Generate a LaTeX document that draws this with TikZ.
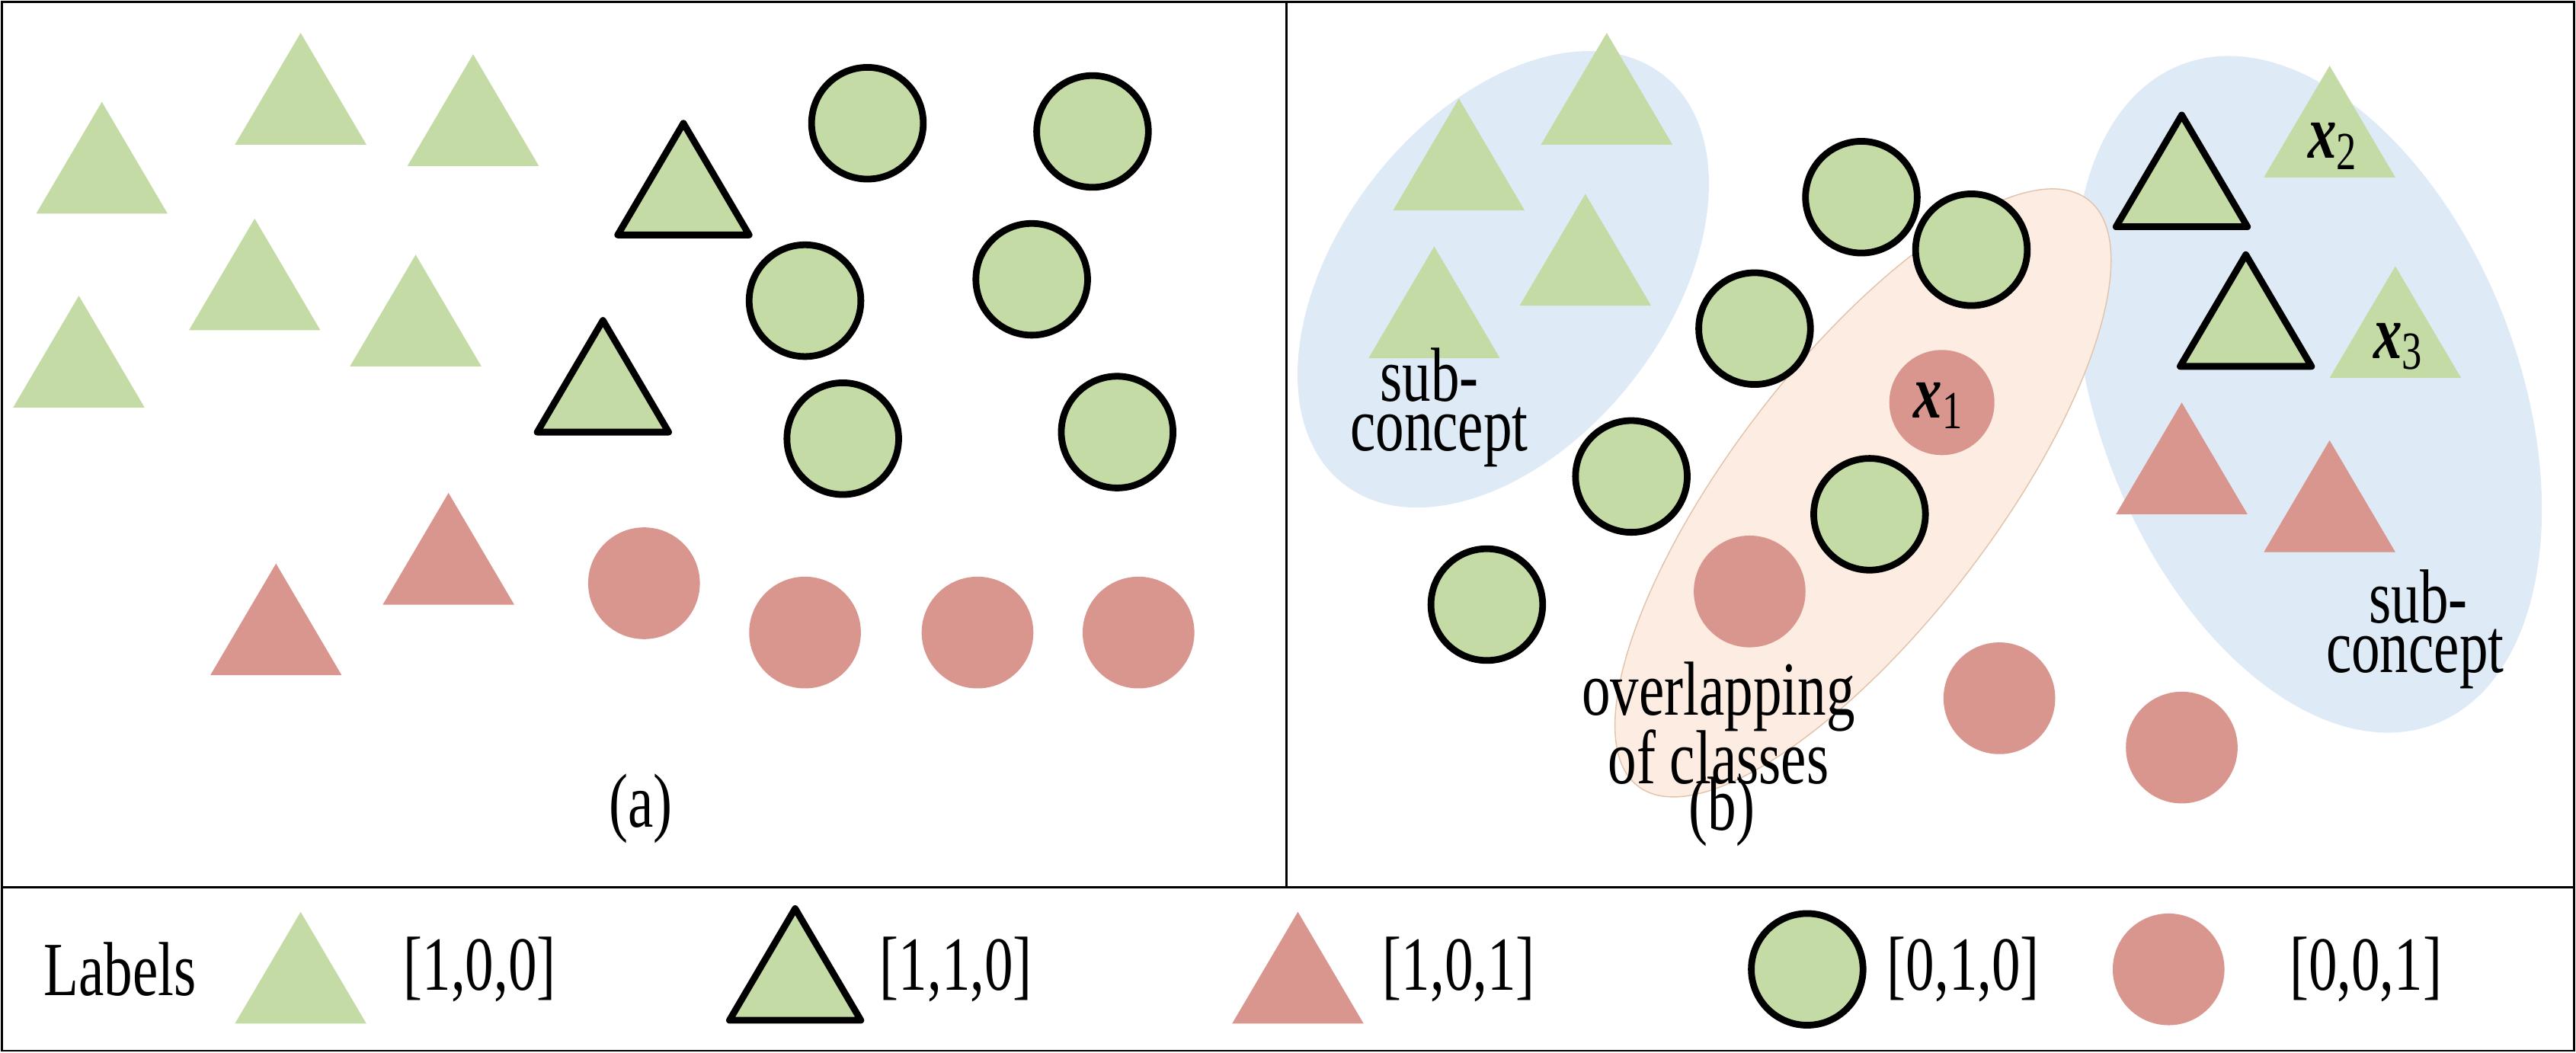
\documentclass[tikz,border=0pt]{standalone}
\usepackage{fontspec}
\usepackage{graphicx}
\setmainfont{Liberation Serif}
\definecolor{lg}{RGB}{197,219,166}
\definecolor{rd}{RGB}{217,150,143}
\definecolor{bl}{RGB}{222,235,247}
\definecolor{og}{RGB}{252,236,225}
\definecolor{ogb}{RGB}{225,195,170}
\tikzset{
 plain/.style={fill=lg},
 bold/.style={fill=lg,draw=black,line width=2.5pt,line join=round},
 red/.style={fill=rd},
 txt/.style={font=\fontsize{22}{22}\selectfont,inner sep=0pt,align=center},
}
\newcommand\tri[3]{\path[#3] ({#1-40},{#2+68}) -- (#1,#2) -- ({#1+40},{#2+68}) -- cycle;}
\newcommand\circl[3]{\path[#3] (#1,#2) circle[radius=34];}
\newcommand\st[1]{\scalebox{0.97}[1.3]{#1}}
\newcommand\bx[1]{\st{{\bfseries\itshape x}\textsubscript{#1}}}
\begin{document}
\begin{tikzpicture}[x=0.02156cm,y=-0.02156cm]
\useasboundingbox (0,0) rectangle (1568,640.5);
% backgrounds
\fill[bl,shift={(915,170)},rotate=52] (0,0) ellipse[x radius=158,y radius=100];
\fill[bl,shift={(1405,240)},rotate=-69] (0,0) ellipse[x radius=215,y radius=128];
\filldraw[fill=og,draw=ogb,line width=0.4pt,shift={(1134,300)},rotate=52.5] (0,0) ellipse[x radius=225,y radius=80];
% frames
\draw[line width=0.8pt] (1,1) rectangle (1567,639.5);
\draw[line width=0.8pt] (1,540) -- (1567,540);
\draw[line width=0.8pt] (783,1) -- (783,540);
% panel a
\tri{62}{62}{plain}\tri{183}{20}{plain}\tri{288}{33}{plain}
\tri{155}{133}{plain}\tri{48}{180}{plain}\tri{253}{155}{plain}
\tri{416}{75}{bold}\tri{367}{195}{bold}
\circl{528}{75}{bold}\circl{665}{80}{bold}\circl{490}{183}{bold}
\circl{628}{170}{bold}\circl{513}{267}{bold}\circl{680}{263}{bold}
\tri{168}{343}{red}\tri{273}{300}{red}
\circl{392}{355}{red}\circl{490}{385}{red}\circl{595}{385}{red}\circl{693}{385}{red}
\node[txt] (la) at (390,492) {\st{(a)}};
% panel b
\tri{888}{60}{plain}\tri{978}{20}{plain}\tri{873}{150}{plain}\tri{965}{118}{plain}
\circl{1133}{120}{bold}\circl{1200}{152}{bold}\circl{1068}{200}{bold}
\circl{993}{290}{bold}\circl{1138}{313}{bold}\circl{905}{368}{bold}
\circl{1065}{360}{red}\circl{1217}{425}{red}\circl{1328}{455}{red}
\path[red] (1182,245) circle[radius=32];
\node[txt] (x1) at (1180,247) {\bx{1}};
\tri{1328}{70}{bold}\tri{1367}{155}{bold}
\tri{1418}{40}{plain}\tri{1458}{162}{plain}
\node[txt] (x2) at (1420,89) {\bx{2}};
\node[txt] (x3) at (1460,211) {\bx{3}};
\tri{1328}{245}{red}\tri{1418}{268}{red}
\node[txt] (s1a) at (870,228) {\st{sub-}};
\node[txt] (s1b) at (876,266) {\st{concept}};
\node[txt] (s2a) at (1472,363) {\st{sub-}};
\node[txt] (s2b) at (1470,401) {\st{concept}};
\node[txt] (ova) at (1046,424) {\st{overlapping}};
\node[txt] (ovb) at (1046,461) {\st{of classes}};
\node[txt] (lb) at (1048,494) {\st{(b)}};
% legend
\node[txt] (lab) at (73,590) {\st{Labels}};
\tri{183}{555}{plain}
\node[txt] (l1) at (292,590) {\st{[1,0,0]}};
\tri{484}{553}{bold}
\node[txt] (l2) at (582,590) {\st{[1,1,0]}};
\tri{790}{555}{red}
\node[txt] (l3) at (888,590) {\st{[1,0,1]}};
\circl{1100}{590}{bold}
\node[txt] (l4) at (1195,590) {\st{[0,1,0]}};
\circl{1320}{590}{red}
\node[txt] (l5) at (1440,590) {\st{[0,0,1]}};
\end{tikzpicture}
\end{document}
